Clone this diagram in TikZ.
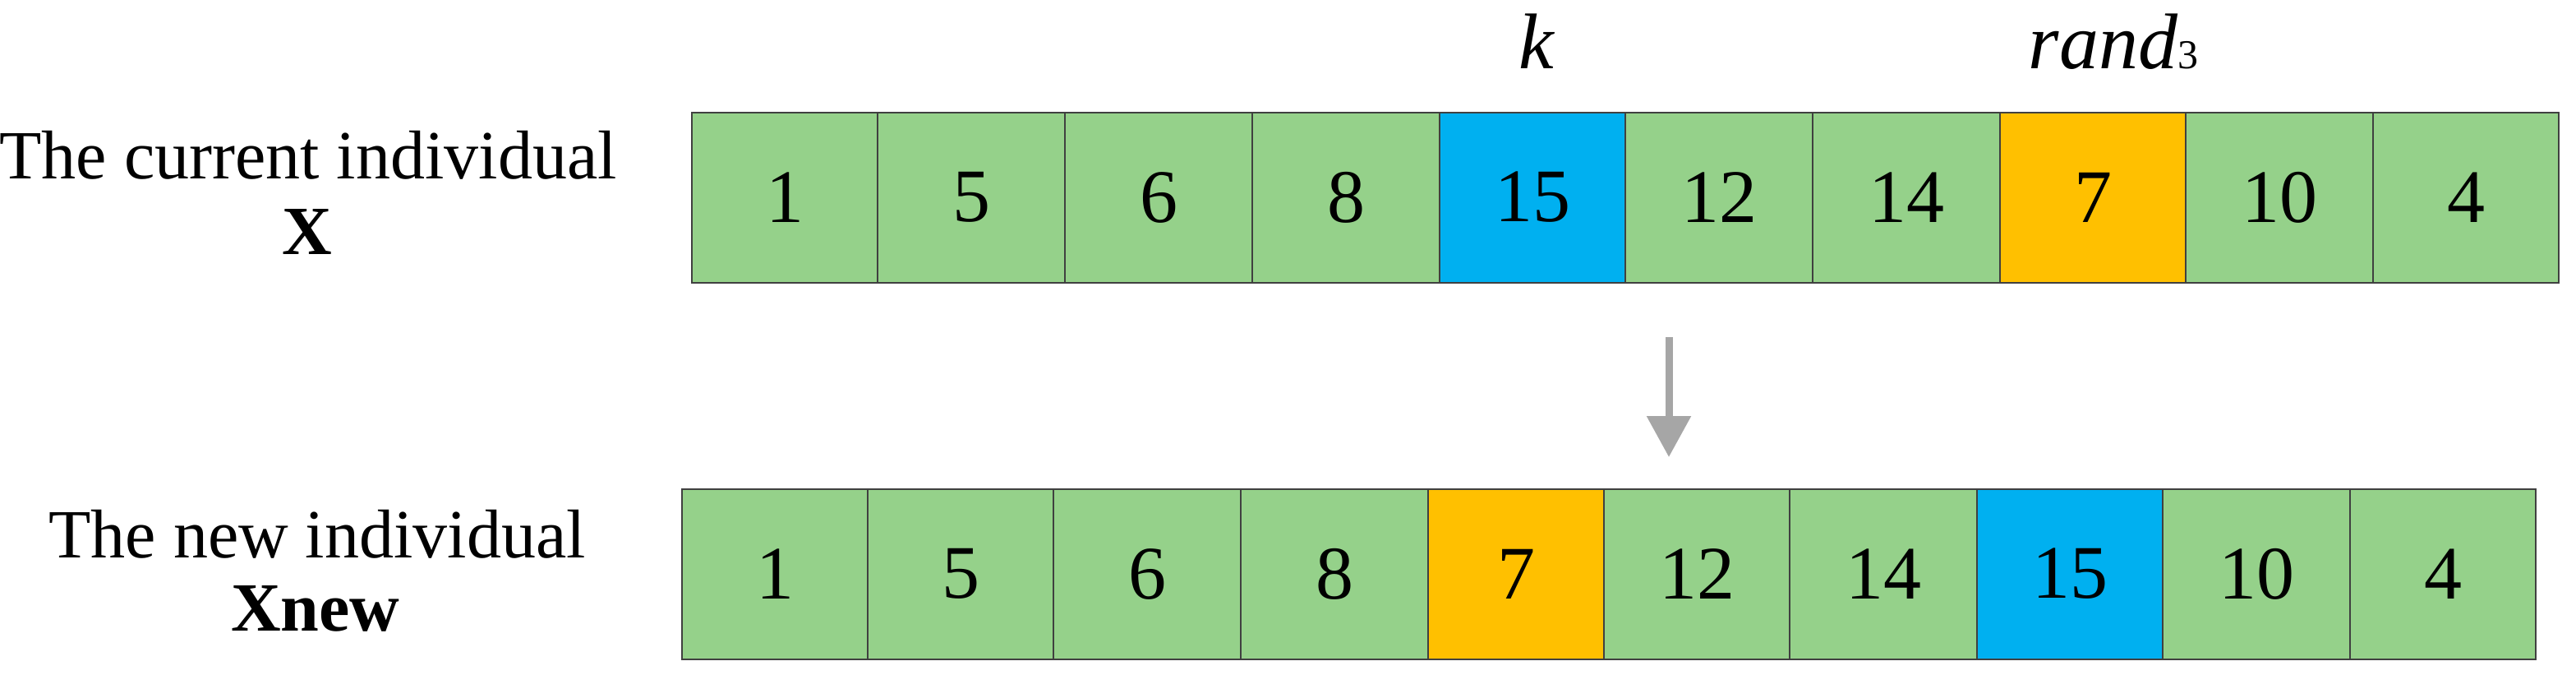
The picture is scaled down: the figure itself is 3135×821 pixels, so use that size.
\documentclass[tikz,border=0pt]{standalone}
\usepackage{fontspec}
\setmainfont{Liberation Serif}
\usetikzlibrary{arrows.meta}
\definecolor{cg}{HTML}{95D18A}
\definecolor{cb}{HTML}{00B0F0}
\definecolor{co}{HTML}{FFC000}
\definecolor{ca}{HTML}{A6A6A6}
\begin{document}
\begin{tikzpicture}[x=1pt,y=-1pt,
  cell/.style={draw=black!75,line width=2pt},
  num/.style={font=\fontsize{92}{92}\selectfont,inner sep=0pt},
  lab/.style={font=\fontsize{84}{90}\selectfont,inner sep=0pt,anchor=base},
  idx/.style={font=\fontsize{96}{96}\selectfont\itshape,inner sep=0pt,anchor=base}]
\useasboundingbox (0,0) rectangle (3135,821);
% top row
\foreach \a/\b/\v/\c [count=\i] in {842/1068/1/cg,1068/1296/5/cg,1296/1524/6/cg,1524/1752/8/cg,1752/1978/15/cb,1978/2206/12/cg,2206/2434/14/cg,2434/2660/7/co,2660/2888/10/cg,2888/3114/4/cg}{
  \filldraw[cell,fill=\c] (\a,137) rectangle (\b,344);
  \node[num] (t\i) at ({(\a+\b)/2},240) {\v};
}
% bottom row
\foreach \a/\b/\v/\c [count=\i] in {830/1056/1/cg,1056/1282/5/cg,1282/1510/6/cg,1510/1738/8/cg,1738/1952/7/co,1952/2178/12/cg,2178/2406/14/cg,2406/2632/15/cb,2632/2860/10/cg,2860/3086/4/cg}{
  \filldraw[cell,fill=\c] (\a,595) rectangle (\b,802);
  \node[num] (b\i) at ({(\a+\b)/2},698) {\v};
}
\node[lab] (l1) at (375,218) {The current individual};
\node[lab] (l2) at (374,309) {\bfseries X};
\node[lab] (l3) at (386,678) {The new individual};
\node[lab] (l4) at (384,767) {\bfseries Xnew};
\node[idx] (k) at (1870,84) {k};
\node[idx] (r) at (2572,84) {rand\raisebox{0pt}{\upshape\fontsize{50}{50}\selectfont 3}};
\coordinate (a1) at (2031,410);
\coordinate (a2) at (2031,556);
\draw[ca,line width=9pt,-{Triangle[length=50pt,width=52pt]}] (a1) -- (a2);
\end{tikzpicture}
\end{document}
